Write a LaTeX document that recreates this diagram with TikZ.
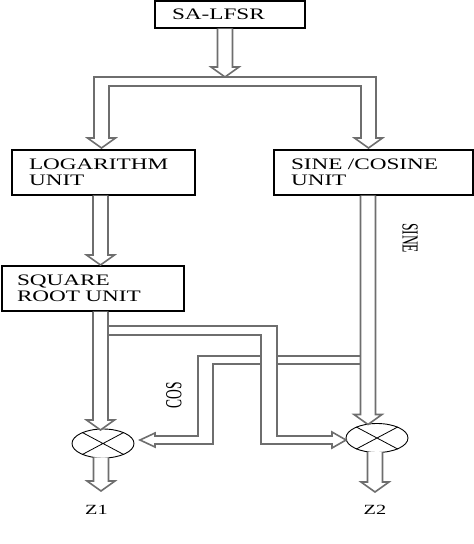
\documentclass[tikz,border=0pt]{standalone}
\usepackage{fontspec}
\setmainfont{Liberation Serif}
\newfontfamily\unitfont[FakeStretch=1.45]{Liberation Serif}
\usetikzlibrary{calc,shapes.geometric}
\definecolor{arrowgray}{RGB}{110,110,110}

% hollow arrow from #1 straight down to the tip #2
\newcommand{\fatdown}[2]{%
  \draw[fatline] let \p1=(#1), \p2=(#2) in
    (\x2-7.5pt,\y1) -- (\x2-7.5pt,\y2+10pt) -- (\x2-14pt,\y2+10pt) -- (\x2,\y2)
    -- (\x2+14pt,\y2+10pt) -- (\x2+7.5pt,\y2+10pt) -- (\x2+7.5pt,\y1);}

\begin{document}
\begin{tikzpicture}[x=1pt,y=-1pt,
  unitbox/.style={draw,line width=1.3pt,align=left,inner ysep=0pt,
    font=\unitfont\fontsize{16}{16.5}\selectfont},
  mult/.style={draw,ellipse,line width=0.9pt,minimum width=62pt,minimum height=29pt,inner sep=0pt},
  fatline/.style={draw=arrowgray,line width=1.6pt,fill=white},
  sidelabel/.style={font=\fontsize{13.5}{14}\selectfont,yscale=1.7}]
  \useasboundingbox (0,0) rectangle (474,544);

  \node[unitbox,minimum height=27pt,text width=116pt,inner xsep=17pt] (lfsr) at (230,14.5) {SA-LFSR};
  \node[unitbox,minimum height=45pt,text width=149pt,inner xsep=17pt] (log) at (103.5,172.5) {LOGARITHM\\UNIT};
  \node[unitbox,minimum height=45pt,text width=165pt,inner xsep=17pt] (trig) at (373.5,172.5) {SINE /COSINE\\UNIT};
  \node[unitbox,minimum height=45pt,text width=152pt,inner xsep=15pt] (sqrt) at (93,288.5) {SQUARE\\ROOT UNIT};

  \node[mult] (mulA) at (103,443.5) {};
  \node[mult] (mulB) at (377,438) {};
  \draw[line width=0.8pt] (mulA.28) -- (mulA.208) (mulA.152) -- (mulA.332);
  \draw[line width=0.8pt] (mulB.28) -- (mulB.208) (mulB.152) -- (mulB.332);

  \node[font=\unitfont\fontsize{14}{14}\selectfont] (z1) at (96.5,509.5) {Z1};
  \node[font=\unitfont\fontsize{14}{14}\selectfont] (z2) at (375,509.5) {Z2};
  \node[rotate=-90,sidelabel] (sin) at (410,238) {SINE};
  \node[rotate=90,sidelabel] (cos) at (174,395.5) {COS};

  \coordinate (fork) at (225,77);
  \coordinate (tipL) at (101.5,148);
  \coordinate (tipR) at (368.5,148);
  \coordinate (inSq) at (100.5,265);
  \coordinate (inA) at (100.5,430);
  \coordinate (inB) at (368,424.5);
  \coordinate (outA) at (101,491);
  \coordinate (outB) at (375,492);
  \coordinate (cosBend) at (198,356);
  \coordinate (cosTip) at (140,440);
  \coordinate (sqBend) at (277,326);
  \coordinate (sqTip) at (346,440);

  % cos branch
  \draw[fatline] let \p1=(inB), \p2=(cosBend), \p3=(cosTip) in
    (\x1-7.5pt,\y2) -- (\x2,\y2) -- (\x2,\y3+4pt) -- (\x3+15pt,\y3+4pt) -- (\x3+15pt,\y3+7pt)
    -- (\x3,\y3) -- (\x3+15pt,\y3-7pt) -- (\x3+15pt,\y3-4pt) -- (\x2+15pt,\y3-4pt)
    -- (\x2+15pt,\y2-8pt) -- (\x1-7.5pt,\y2-8pt);
  % square root branch
  \draw[fatline] let \p1=(inA), \p2=(sqBend), \p3=(sqTip) in
    (\x1+7.5pt,\y2) -- (\x2,\y2) -- (\x2,\y3+4pt) -- (\x3-14pt,\y3+4pt) -- (\x3-14pt,\y3+8pt)
    -- (\x3,\y3) -- (\x3-14pt,\y3-8pt) -- (\x3-14pt,\y3-4pt) -- (\x2-16pt,\y3-4pt)
    -- (\x2-16pt,\y2-9pt) -- (\x1+7.5pt,\y2-9pt);

  % fork under the LFSR
  \draw[fatline] let \p1=(tipL), \p2=(tipR), \p3=(fork) in
    (\x1,\y1) -- (\x1-14pt,\y1+10pt) -- (\x1-7.5pt,\y1+10pt) -- (\x1-7.5pt,\y3)
    -- (\x2+7.5pt,\y3) -- (\x2+7.5pt,\y2+10pt) -- (\x2+14pt,\y2+10pt) -- (\x2,\y2)
    -- (\x2-14pt,\y2+10pt) -- (\x2-7.5pt,\y2+10pt) -- (\x2-7.5pt,\y3-9pt)
    -- (\x1+7.5pt,\y3-9pt) -- (\x1+7.5pt,\y1+10pt) -- (\x1+14pt,\y1+10pt) -- cycle;

  \fatdown{lfsr.south}{fork}
  \fatdown{log.south}{inSq}
  \fatdown{sqrt.south}{inA}
  \fatdown{trig.south}{inB}
  \fatdown{[yshift=1pt]mulA.south}{outA}
  \fatdown{[yshift=1pt]mulB.south}{outB}
\end{tikzpicture}
\end{document}
